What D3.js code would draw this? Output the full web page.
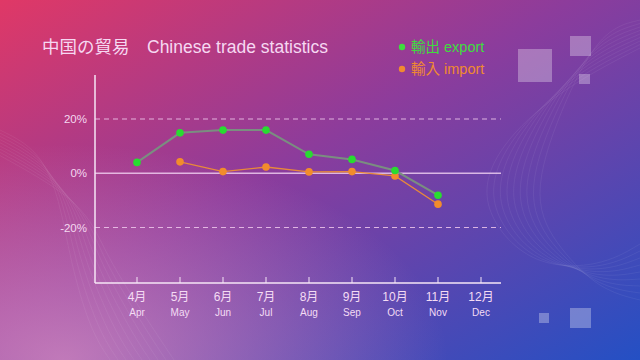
<!DOCTYPE html>
<html><head><meta charset="utf-8">
<script src="https://cdn.jsdelivr.net/npm/d3@7/dist/d3.min.js"></script>
<style>html,body{margin:0;padding:0;background:#8a3c9c;}svg{display:block;}</style>
</head><body>
<svg id="c" width="640" height="360"></svg>
<script>
const monthsJa = ["4月","5月","6月","7月","8月","9月","10月","11月","12月"];
const monthsEn = ["Apr","May","Jun","Jul","Aug","Sep","Oct","Nov","Dec"];
const exportVals = [4.0, 14.9, 15.9, 15.9, 7.0, 5.1, 1.0, -8.1, null];
const importVals = [null, 4.2, 0.6, 2.3, 0.5, 0.6, -1.0, -11.4, null];
const yTicks = [20, 0, -20];
const title = "中国の貿易　Chinese trade statistics";
const legendItems = [{label:"輸出 export", color:"#3fdc3f"},{label:"輸入 import", color:"#f08a30"}];

const svg = d3.select("#c");
const W = 640, H = 360;
const font = "'Liberation Sans','Noto Sans CJK JP',Arial,sans-serif";
const defs = svg.append("defs");
const g1 = defs.append("linearGradient").attr("id","bg").attr("x1","0").attr("y1","0").attr("x2","1").attr("y2","1");
g1.append("stop").attr("offset","0").attr("stop-color","#e03866");
g1.append("stop").attr("offset","0.45").attr("stop-color","#8c3c9c");
g1.append("stop").attr("offset","1").attr("stop-color","#2450c4");
const g2 = defs.append("radialGradient").attr("id","glow").attr("cx","0.1").attr("cy","1").attr("r","0.6");
g2.append("stop").attr("offset","0").attr("stop-color","#f0a0c8").attr("stop-opacity",0.6);
g2.append("stop").attr("offset","1").attr("stop-color","#f0a0c8").attr("stop-opacity",0);
svg.append("rect").attr("width",W).attr("height",H).attr("fill","url(#bg)");
svg.append("rect").attr("width",W).attr("height",H).attr("fill","url(#glow)");

// decorative contour lines
const deco = svg.append("g").attr("fill","none").attr("stroke","#ffffff").attr("stroke-opacity",0.08).attr("stroke-width",0.8);
const wl = d3.line().curve(d3.curveBasis);
for (let i=0;i<9;i++){
  const o=i*7;
  deco.append("path").attr("d", wl([[640,20+o*0.5],[600-o*0.6,30+o],[560-o,110+o*0.5],[530-o,200],[560-o*0.6,250+o*0.3],[600,290-o*0.4],[640,300-o]]));
}
for (let i=0;i<9;i++){
  const o=i*8;
  deco.append("path").attr("d", wl([[0,130+o*0.4],[40+o*0.3,150+o*0.6],[60+o*0.5,200+o*0.3],[70+o*0.6,260],[90+o,330],[110+o,360]]));
}

// decorative squares
const sq = [[518,49,34,33],[570,36,21,20],[579,74,11,10],[539,313,10,10],[570,308,21,20]];
svg.append("g").selectAll("rect").data(sq).join("rect")
  .attr("x",d=>d[0]).attr("y",d=>d[1]).attr("width",d=>d[2]).attr("height",d=>d[3])
  .attr("fill","#ffffff").attr("fill-opacity",0.3);

// scales
const x = d3.scalePoint().domain(monthsEn).range([137,481]);
const y = d3.scaleLinear().domain([-20,20]).range([227.5,119]);
const axisLeftX = 95, axisBottomY = 283, axisTopY = 75, axisRightX = 501;
const axisColor = "#f6e6f6";

// gridlines
svg.append("g").selectAll("line").data(yTicks.filter(d=>d!==0)).join("line")
  .attr("x1",axisLeftX).attr("x2",axisRightX).attr("y1",d=>y(d)).attr("y2",d=>y(d))
  .attr("stroke","#f0c8ec").attr("stroke-opacity",0.85).attr("stroke-width",1).attr("stroke-dasharray","5,4");
svg.append("line").attr("x1",axisLeftX).attr("x2",axisRightX).attr("y1",y(0)).attr("y2",y(0))
  .attr("stroke","#f4d4f4").attr("stroke-opacity",0.8).attr("stroke-width",1.5);

// y tick labels
svg.append("g").selectAll("text").data(yTicks).join("text")
  .attr("x",87).attr("y",d=>y(d)).attr("dy","0.35em").attr("text-anchor","end")
  .attr("fill","#f4d8f0").attr("font-family",font).attr("font-size",11.5).text(d=>d+"%");

// axes lines
svg.append("line").attr("x1",axisLeftX).attr("x2",axisLeftX).attr("y1",axisTopY).attr("y2",axisBottomY)
  .attr("stroke",axisColor).attr("stroke-width",1.5);
svg.append("line").attr("x1",axisLeftX).attr("x2",axisRightX).attr("y1",axisBottomY).attr("y2",axisBottomY)
  .attr("stroke",axisColor).attr("stroke-width",1.5);

// x ticks
const xt = svg.append("g").selectAll("g").data(monthsEn).join("g").attr("transform",d=>`translate(${x(d)},0)`);
xt.append("line").attr("y1",axisBottomY-6).attr("y2",axisBottomY).attr("stroke",axisColor).attr("stroke-width",1);
xt.append("text").attr("y",301).attr("text-anchor","middle").attr("fill","#f4dcf4")
  .attr("font-family",font).attr("font-size",12).text((d,i)=>monthsJa[i]);
xt.append("text").attr("y",316).attr("text-anchor","middle").attr("fill","#f4dcf4")
  .attr("font-family",font).attr("font-size",10).text(d=>d);

// lines
function series(vals, lineColor, lw, dotColor){
  const data = monthsEn.map((m,i)=>({m, v:vals[i]})).filter(d=>d.v!==null);
  const line = d3.line().x(d=>x(d.m)).y(d=>y(d.v));
  svg.append("path").datum(data).attr("d",line).attr("fill","none")
    .attr("stroke",lineColor).attr("stroke-width",lw);
  svg.append("g").selectAll("circle").data(data).join("circle")
    .attr("cx",d=>x(d.m)).attr("cy",d=>y(d.v)).attr("r",3.8).attr("fill",dotColor);
}
series(importVals, "#e8893a", 1.3, "#f28c2c");
series(exportVals, "#7a8e80", 2, "#28dc30");

// title
svg.append("text").attr("x",42).attr("y",53).attr("fill","#f6d8f2")
  .attr("font-family",font).attr("font-size",17.5).text(title);

// legend
const lg = svg.append("g").selectAll("g").data(legendItems).join("g")
  .attr("transform",(d,i)=>`translate(402,${47+i*22})`);
lg.append("circle").attr("r",3.2).attr("fill",d=>d.color);
lg.append("text").attr("x",9).attr("dy","0.35em").attr("fill",d=>d.color)
  .attr("font-family",font).attr("font-size",14.5).text(d=>d.label);
</script>
</body></html>
